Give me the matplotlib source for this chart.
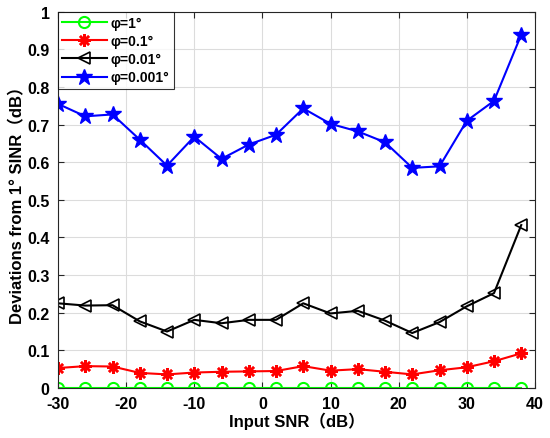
import matplotlib
matplotlib.use("Agg")
import matplotlib.pyplot as plt

plt.rcParams['font.family'] = ['Liberation Sans', 'Noto Sans CJK SC', 'DejaVu Sans']
plt.rcParams['font.weight'] = 'bold'
plt.rcParams['axes.unicode_minus'] = False

snr = [-30, -26, -22, -18, -14, -10, -6, -2, 2, 6, 10, 14, 18, 22, 26, 30, 34, 38]
phi_1 = [0.0] * 18
phi_01 = [0.053, 0.058, 0.057, 0.040, 0.036, 0.041, 0.043, 0.044, 0.045, 0.058, 0.046, 0.050,
          0.043, 0.036, 0.047, 0.055, 0.071, 0.092]
phi_001 = [0.225, 0.219, 0.220, 0.177, 0.150, 0.181, 0.172, 0.181, 0.181, 0.225, 0.198, 0.205,
           0.179, 0.146, 0.175, 0.217, 0.252, 0.433]
phi_0001 = [0.755, 0.722, 0.727, 0.660, 0.591, 0.668, 0.609, 0.647, 0.673, 0.743, 0.702, 0.682,
            0.653, 0.585, 0.589, 0.710, 0.763, 0.939]
labels = ['φ=1°', 'φ=0.1°', 'φ=0.01°', 'φ=0.001°']
xticks = [-30, -20, -10, 0, 10, 20, 30, 40]
yticks = [0, 0.1, 0.2, 0.3, 0.4, 0.5, 0.6, 0.7, 0.8, 0.9, 1]
ytick_labels = ['0', '0.1', '0.2', '0.3', '0.4', '0.5', '0.6', '0.7', '0.8', '0.9', '1']

fig = plt.figure(figsize=(5.5, 4.39), dpi=100)
ax = fig.add_axes([0.1055, 0.114, 0.867, 0.857])

ax.plot(snr, phi_1, color='#00ff00', lw=1.5, marker='o', ms=8, mfc='none', mec='#00ff00', mew=1.5, label=labels[0])
ax.plot(snr, phi_01, color='#ff0000', lw=1.5, marker=(8, 2, 0), ms=9, mec='#ff0000', mew=1.8, label=labels[1])
ax.plot(snr, phi_001, color='black', lw=1.5, marker='<', ms=9, mfc='none', mec='black', mew=1.2, label=labels[2])
ax.plot(snr, phi_0001, color='#0000ff', lw=1.5, marker='*', ms=12, mfc='#0000ff', mec='#0000ff', label=labels[3])

ax.set_xlim(-30, 40)
ax.set_ylim(0, 1)
ax.set_xticks(xticks)
ax.set_yticks(yticks)
ax.set_yticklabels(ytick_labels)
ax.tick_params(direction='in', length=4, labelsize=11.5, colors='#262626', top=True, right=True)
ax.tick_params(axis='x', pad=6)
ax.tick_params(axis='y', pad=6)
for lab in ax.get_xticklabels() + ax.get_yticklabels():
    lab.set_fontweight('bold')
    lab.set_color('black')
ax.grid(True, color='#dcdcdc', lw=0.8)
ax.set_axisbelow(True)
for s in ax.spines.values():
    s.set_color('#262626')
    s.set_linewidth(0.8)

ax.set_xlabel('Input SNR（dB）', fontsize=12, fontweight='bold')
ax.set_ylabel('Deviations from 1° SINR（dB）', fontsize=12, fontweight='bold')
ax.xaxis.set_label_coords(0.5, -0.064)
ax.yaxis.set_label_coords(-0.069, 0.5)

leg = ax.legend(loc='upper left', fontsize=10, frameon=True, fancybox=False, handlelength=3.2,
                borderaxespad=0.0, borderpad=0.3, labelspacing=0.3, handletextpad=0.3)
leg.get_frame().set_edgecolor('black')
leg.get_frame().set_linewidth(0.8)
for t in leg.get_texts():
    t.set_fontweight('bold')

fig.savefig('out.png', dpi=100)
